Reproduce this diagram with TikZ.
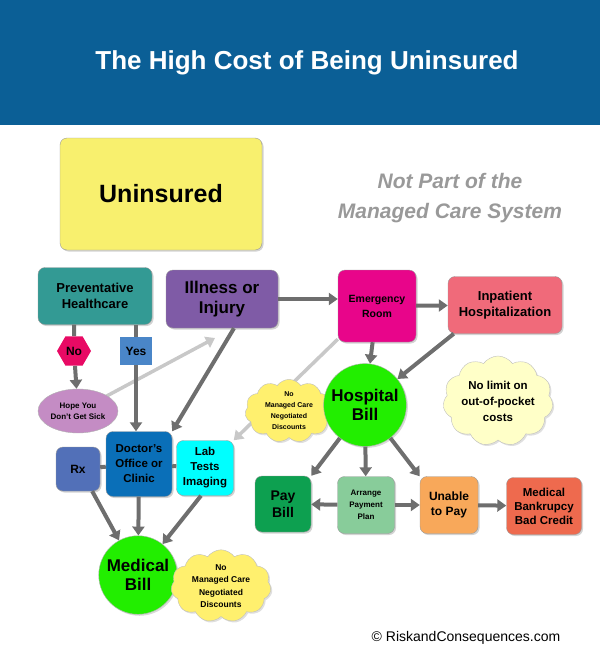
\documentclass[tikz,border=0pt]{standalone}
\usepackage{fontspec}
\setmainfont{Liberation Sans}
\usetikzlibrary{shapes.geometric,shapes.symbols,arrows.meta,shadows,backgrounds}
\definecolor{hdr}{HTML}{0B5F96}
\definecolor{arr}{HTML}{6E6E6E}
\definecolor{larr}{HTML}{C8C8C8}
\definecolor{cyn}{RGB}{0,255,255}
\begin{document}
\begin{tikzpicture}[x=1pt,y=-1pt,
  box/.style={rounded corners=7pt,draw=black!40,line width=0.4pt,align=center,font=\bfseries,inner sep=1pt,drop shadow={opacity=0.35,shadow xshift=1.5pt,shadow yshift=-1.5pt}},
  circ/.style={circle,fill={rgb,255:red,34;green,238;blue,0},draw=black!30,align=center,font=\bfseries\fontsize{17}{19}\selectfont,drop shadow={opacity=0.3,shadow xshift=1.5pt,shadow yshift=-1.5pt}},
  cld/.style={cloud,cloud puffs=11,cloud puff arc=110,aspect=1.5,draw=black!25,align=center,font=\bfseries,inner sep=0pt,drop shadow={opacity=0.25,shadow xshift=1.5pt,shadow yshift=-1.5pt}},
  a/.style={draw=arr,line width=4pt,-{Triangle[length=9pt,width=12pt]}},
  l/.style={draw=arr,line width=4pt},
  la/.style={draw=larr,line width=3.5pt,-{Triangle[length=9pt,width=12pt]}}]
\useasboundingbox (0,0) rectangle (600,656);
\fill[hdr] (0,0) rectangle (600,125);
\node[text=white,font=\bfseries\fontsize{26}{30}\selectfont] (title) at (307,63) {The High Cost of Being Uninsured};
\node[box,fill={rgb,255:red,248;green,240;blue,110},minimum width=202pt,minimum height=112pt,font=\bfseries\fontsize{25}{28}\selectfont] (un) at (161,194) {Uninsured};
\node[text=black!40,font=\bfseries\itshape\fontsize{21}{30}\selectfont,align=center] (np) at (450,198) {Not Part of the\\Managed Care System};
\node[box,fill={rgb,255:red,51;green,154;blue,148},minimum width=114pt,minimum height=57pt,font=\bfseries\fontsize{13}{16}\selectfont] (prev) at (95,296) {Preventative\\Healthcare};
\node[box,fill={rgb,255:red,127;green,91;blue,166},minimum width=112pt,minimum height=58pt,font=\bfseries\fontsize{17}{20}\selectfont] (ill) at (222,299) {Illness or\\Injury};
\node[box,fill={rgb,255:red,232;green,5;blue,138},minimum width=78pt,minimum height=72pt,font=\bfseries\fontsize{10.5}{15}\selectfont] (er) at (377,306) {Emergency\\Room};
\node[box,fill={rgb,255:red,240;green,106;blue,122},minimum width=114pt,minimum height=57pt,font=\bfseries\fontsize{13}{16}\selectfont] (inp) at (505,305) {Inpatient\\Hospitalization};
\node[regular polygon,regular polygon sides=6,fill={rgb,255:red,232;green,10;blue,100},minimum size=34pt,inner sep=0pt,font=\bfseries\fontsize{12}{14}\selectfont] (no) at (74,351) {No};
\node[fill={rgb,255:red,74;green,134;blue,200},minimum width=32pt,minimum height=28pt,inner sep=0pt,font=\bfseries\fontsize{12}{14}\selectfont] (yes) at (136,351) {Yes};
\node[ellipse,fill={rgb,255:red,196;green,140;blue,196},draw=black!30,minimum width=80pt,minimum height=44pt,inner sep=0pt,align=center,font=\bfseries\fontsize{8}{11}\selectfont] (hope) at (78,411) {Hope You\\Don't Get Sick};
\node[box,fill={rgb,255:red,10;green,111;blue,184},minimum width=66pt,minimum height=65pt,font=\bfseries\fontsize{11.5}{15}\selectfont] (doc) at (139,464) {Doctor's\\Office or\\Clinic};
\node[box,fill={rgb,255:red,82;green,112;blue,184},minimum width=44pt,minimum height=44pt,font=\bfseries\fontsize{12}{14}\selectfont] (rx) at (78,469) {Rx};
\node[box,fill=cyn,minimum width=57pt,minimum height=55pt,font=\bfseries\fontsize{11.5}{15}\selectfont] (lab) at (205,468) {Lab\\Tests\\Imaging};
\node[circ,minimum size=76pt] (mb) at (138,575) {Medical\\Bill};
\node[cld,fill={rgb,255:red,255;green,240;blue,110},minimum width=100pt,minimum height=66pt,font=\bfseries\fontsize{8.5}{12.5}\selectfont] (c1) at (221,586) {No\\Managed Care\\Negotiated\\Discounts};
\node[cld,fill={rgb,255:red,255;green,240;blue,110},minimum width=88pt,minimum height=58pt,font=\bfseries\fontsize{7}{11}\selectfont] (c2) at (289,411) {No\\Managed Care\\Negotiated\\Discounts};
\node[circ,minimum size=78pt] (hb) at (365,405) {Hospital\\Bill};
\node[cld,fill={rgb,255:red,255;green,255;blue,200},minimum width=110pt,minimum height=90pt,font=\bfseries\fontsize{11.5}{16}\selectfont] (c3) at (498,401) {No limit on\\out-of-pocket\\costs};
\node[box,fill={rgb,255:red,13;green,160;blue,80},minimum width=56pt,minimum height=56pt,font=\bfseries\fontsize{14}{17}\selectfont] (pay) at (283,504) {Pay\\Bill};
\node[box,fill={rgb,255:red,136;green,204;blue,154},minimum width=57pt,minimum height=57pt,font=\bfseries\fontsize{8}{12}\selectfont] (arr) at (366,505) {Arrange\\Payment\\Plan};
\node[box,fill={rgb,255:red,248;green,168;blue,90},minimum width=58pt,minimum height=57pt,font=\bfseries\fontsize{12}{15}\selectfont] (una) at (449,505) {Unable\\to Pay};
\node[box,fill={rgb,255:red,238;green,106;blue,78},minimum width=75pt,minimum height=57pt,font=\bfseries\fontsize{11.5}{14}\selectfont] (bk) at (544,506) {Medical\\Bankrupcy\\Bad Credit};
\node[font=\fontsize{14}{16}\selectfont] (cp) at (466,638) {© RiskandConsequences.com};
\coordinate (hopeend) at (215,338);
\begin{pgfonlayer}{background}
\draw[la] (hope.north east) ++(-4,3) -- (hopeend);
\draw[la] (er.south west) ++(0,-3) -- (lab.north east);
\end{pgfonlayer}
\draw[l] (prev.south -| no) -- (no);
\draw[a] (no) -- (hope);
\draw[l] (prev.south -| yes) -- (yes);
\draw[a] (yes) -- (yes |- doc.north);
\draw[a] ([xshift=12pt]ill.south) -- (doc.north east);
\draw[a] (ill.east) -- (ill.east -| er.west);
\draw[a] (er) -- (inp);
\draw[a] (er) -- (hb);
\draw[a] (inp.south west) ++(6,0) -- (hb);
\draw[a] (hb) -- (pay.north east);
\draw[a] (hb) -- (arr);
\draw[a] (hb) -- (una.north west);
\draw[a] (arr) -- (pay);
\draw[a] (arr) -- (una);
\draw[a] (una) -- (bk);
\draw[l] (rx) -- (doc);
\draw[l] (doc) -- (lab);
\draw[a] (rx.south east) ++(-8,0) -- (mb);
\draw[a] (doc) -- (mb);
\draw[a] (lab.south) ++(-4,0) -- (mb);
\end{tikzpicture}
\end{document}
